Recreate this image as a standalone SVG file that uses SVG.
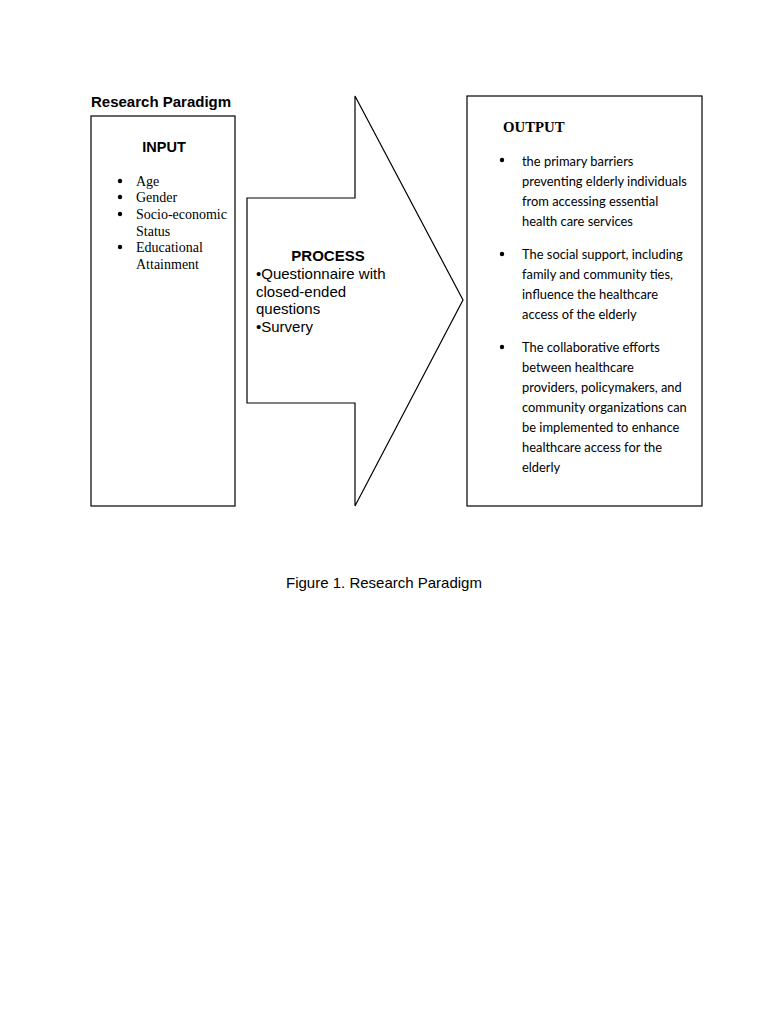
<svg xmlns="http://www.w3.org/2000/svg" width="768" height="1024" viewBox="0 0 768 1024">
<style>
.box{fill:#fff;stroke:#000;stroke-width:1.2}
.sans{font-family:"Liberation Sans",Arial,sans-serif;fill:#000}
.serif{font-family:"Liberation Serif","Times New Roman",serif;fill:#000}
.cal{font-family:Lato,"Open Sans",sans-serif;fill:#000;font-size:12.9px}
.b{font-weight:bold}
</style>
<rect width="768" height="1024" fill="#fff"/>
<text class="sans b" x="91" y="107" font-size="15">Research Paradigm</text>
<g id="input">
<rect class="box" x="91" y="116" width="144" height="390"/>
<text class="sans b" x="164" y="152" font-size="14.5" text-anchor="middle">INPUT</text>
<g class="serif" font-size="14">
<circle cx="120" cy="181" r="2.2"/><text x="136" y="186">Age</text>
<circle cx="120" cy="197" r="2.2"/><text x="136" y="202">Gender</text>
<circle cx="120" cy="214" r="2.2"/><text x="136" y="219">Socio-economic</text>
<text x="136" y="236">Status</text>
<circle cx="120" cy="247" r="2.2"/><text x="136" y="252">Educational</text>
<text x="136" y="269">Attainment</text>
</g>
</g>
<g id="process">
<polygon class="box" points="247,198 355,198 355,96 463,300 355,506 355,403 247,403"/>
<text class="sans b" x="328" y="261" font-size="15" text-anchor="middle">PROCESS</text>
<g class="sans" font-size="15">
<text x="256" y="279">•Questionnaire with</text>
<text x="256" y="297">closed-ended</text>
<text x="256" y="314">questions</text>
<text x="256" y="332">•Survery</text>
</g>
</g>
<g id="output">
<rect class="box" x="467" y="96" width="235" height="410"/>
<text class="serif b" x="503" y="132" font-size="14.8">OUTPUT</text>
<g class="cal">
<circle cx="502" cy="160" r="2.2"/>
<text x="522" y="166">the primary barriers</text>
<text x="522" y="186">preventing elderly individuals</text>
<text x="522" y="206">from accessing essential</text>
<text x="522" y="226">health care services</text>
<circle cx="502" cy="254" r="2.2"/>
<text x="522" y="259">The social support, including</text>
<text x="522" y="279">family and community ties,</text>
<text x="522" y="299">influence the healthcare</text>
<text x="522" y="319">access of the elderly</text>
<circle cx="502" cy="347" r="2.2"/>
<text x="522" y="352">The collaborative efforts</text>
<text x="522" y="372">between healthcare</text>
<text x="522" y="392">providers, policymakers, and</text>
<text x="522" y="412">community organizations can</text>
<text x="522" y="432">be implemented to enhance</text>
<text x="522" y="452">healthcare access for the</text>
<text x="522" y="472">elderly</text>
</g>
</g>
<g id="connectors"></g>
<text class="sans" x="384" y="588" font-size="15" text-anchor="middle">Figure 1. Research Paradigm</text>
</svg>
